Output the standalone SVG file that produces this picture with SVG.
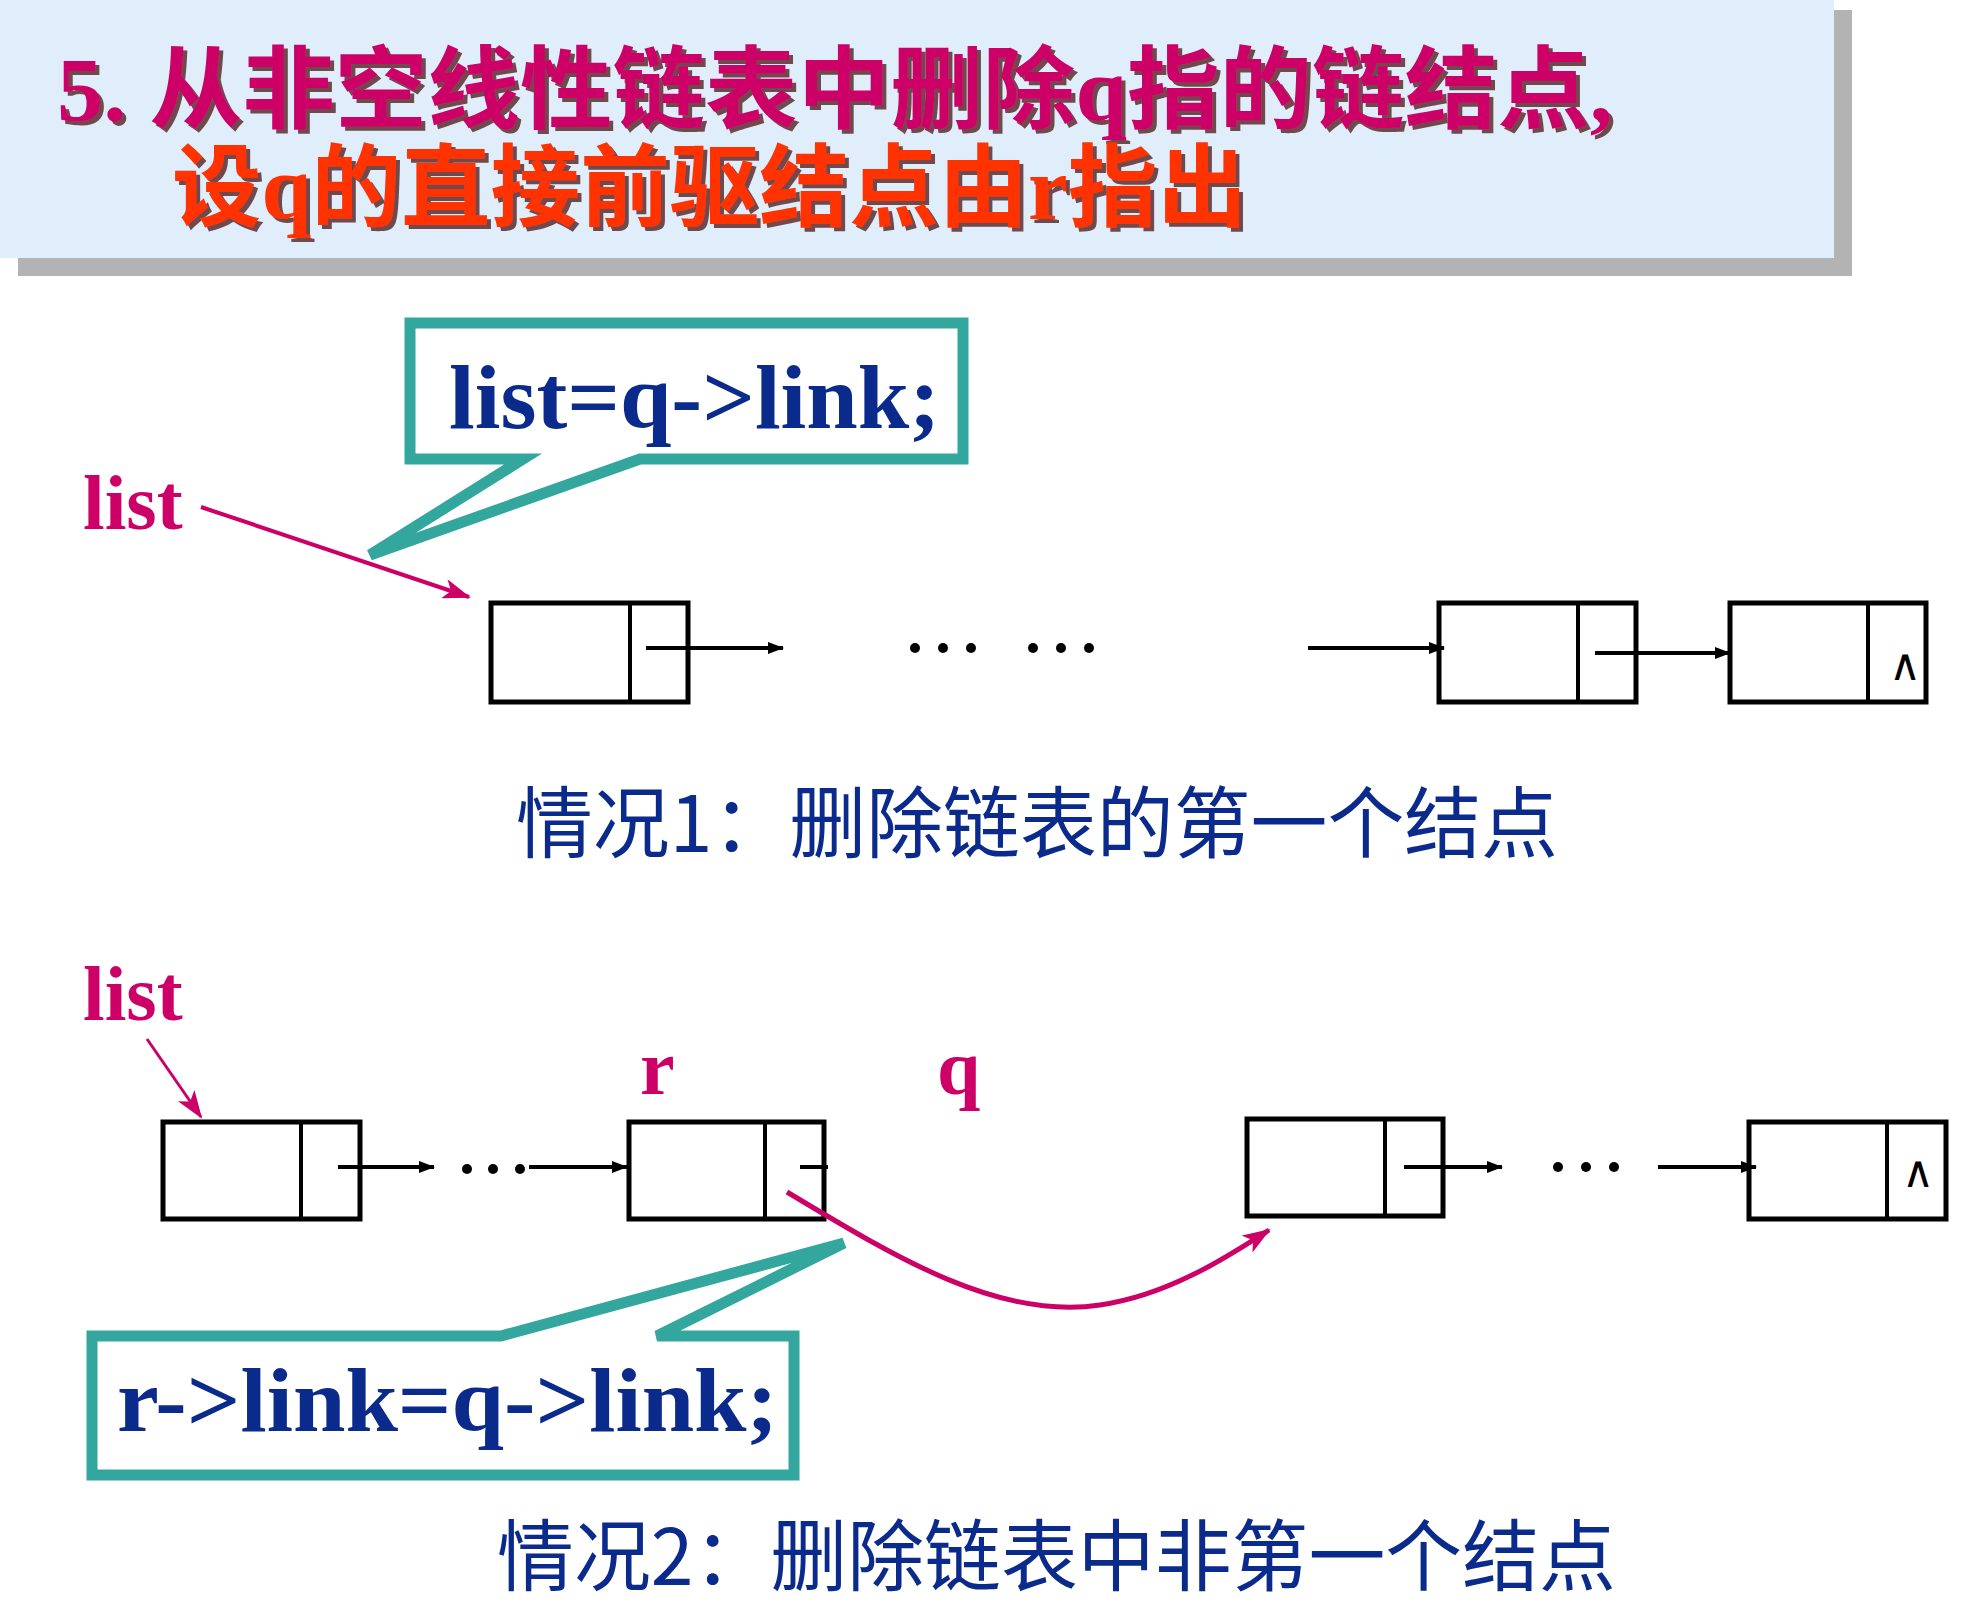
<svg xmlns="http://www.w3.org/2000/svg" width="1980" height="1620" viewBox="0 0 1980 1620">
<defs>
<style>
.node{fill:#fff;stroke:#000;stroke-width:5}
.ln{stroke:#000;stroke-width:4;fill:none}
.code{font-family:"Liberation Serif",serif;font-weight:bold;font-size:92px;fill:#0a2a8c}
.ptr{font-family:"Liberation Serif",serif;font-weight:bold;font-size:78px;fill:#cc0066}
.cap{font-family:"Noto Sans CJK SC","Liberation Sans",sans-serif;font-size:78px;fill:#0a2a8c}
.call{fill:#fff;stroke:#33a69e;stroke-width:11;stroke-linejoin:miter}
.t1{font-family:"Liberation Serif","Noto Sans CJK SC",serif;font-weight:bold;font-size:90px;filter:url(#sh)}
.nil{font-family:"Liberation Sans",sans-serif;font-size:44px;fill:#000}
</style>
<filter id="sh" x="-5%" y="-20%" width="110%" height="140%"><feDropShadow dx="4" dy="4" stdDeviation="0.5" flood-color="#552222" flood-opacity="0.8"/></filter>
<marker id="ah" markerWidth="16" markerHeight="12" refX="15" refY="6" orient="auto" markerUnits="userSpaceOnUse"><path d="M0,0 L16,6 L0,12z" fill="#000"/></marker>
<marker id="mh" markerWidth="28" markerHeight="20" refX="26" refY="10" orient="auto" markerUnits="userSpaceOnUse"><path d="M0,0 L28,10 L0,20 L7,10z" fill="#cc0066"/></marker>
</defs>
<g id="header">
<rect x="18" y="10" width="1834" height="266" fill="#b3b3b3"/>
<rect x="0" y="0" width="1834" height="258" fill="#e0eefc"/>
<text class="t1" x="57" y="121" fill="#cc0066" textLength="1556" lengthAdjust="spacingAndGlyphs">5. 从非空线性链表中删除q指的链结点,</text>
<text class="t1" x="172" y="219" fill="#ff3300" textLength="1075" lengthAdjust="spacingAndGlyphs">设q的直接前驱结点由r指出</text>
</g>
<g id="callout1">
<path class="call" d="M410,323 H963 V459 H640 L370,555 L523,459 H410 Z"/>
<text class="code" x="449" y="428" textLength="491" lengthAdjust="spacingAndGlyphs">list=q-&gt;link;</text>
</g>
<g id="case1">
<text class="ptr" x="83" y="529">list</text>
<g id="c1n1"><rect class="node" x="491" y="603" width="197" height="99"/><line class="ln" x1="630" y1="603" x2="630" y2="702"/></g>
<g id="c1dots" fill="#000"><circle cx="915" cy="648" r="5"/><circle cx="943" cy="648" r="5"/><circle cx="971" cy="648" r="5"/><circle cx="1033" cy="648" r="5"/><circle cx="1061" cy="648" r="5"/><circle cx="1089" cy="648" r="5"/></g>
<g id="c1n2"><rect class="node" x="1439" y="603" width="197" height="99"/><line class="ln" x1="1578" y1="603" x2="1578" y2="702"/></g>
<g id="c1n3"><rect class="node" x="1730" y="603" width="196" height="99"/><line class="ln" x1="1868" y1="603" x2="1868" y2="702"/><text class="nil" x="1905" y="680" text-anchor="middle">∧</text></g>
<text class="cap" x="516" y="852" textLength="1042" lengthAdjust="spacingAndGlyphs">情况1：删除链表的第一个结点</text>
</g>
<g id="case2">
<text class="ptr" x="83" y="1020">list</text>
<text class="ptr" x="640" y="1094">r</text>
<text class="ptr" x="937" y="1094">q</text>
<g id="c2n1"><rect class="node" x="163" y="1122" width="197" height="97"/><line class="ln" x1="301" y1="1122" x2="301" y2="1219"/></g>
<g id="c2dots" fill="#000"><circle cx="467" cy="1169" r="5"/><circle cx="493" cy="1169" r="5"/><circle cx="520" cy="1169" r="5"/><circle cx="1558" cy="1167" r="5"/><circle cx="1586" cy="1167" r="5"/><circle cx="1614" cy="1167" r="5"/></g>
<g id="c2r"><rect class="node" x="629" y="1122" width="195" height="97"/><line class="ln" x1="765" y1="1122" x2="765" y2="1219"/></g>
<g id="c2q"><rect class="node" x="1247" y="1119" width="196" height="97"/><line class="ln" x1="1385" y1="1119" x2="1385" y2="1216"/></g>
<g id="c2n4"><rect class="node" x="1749" y="1122" width="197" height="97"/><line class="ln" x1="1887" y1="1122" x2="1887" y2="1219"/><text class="nil" x="1918" y="1187" text-anchor="middle">∧</text></g>
<text class="cap" x="497" y="1585" textLength="1119" lengthAdjust="spacingAndGlyphs">情况2：删除链表中非第一个结点</text>
</g>
<g id="callout2">
<path class="call" d="M92,1336 H501 L844,1243 L657,1336 H794 V1475 H92 Z"/>
<text class="code" x="117" y="1431" textLength="661" lengthAdjust="spacingAndGlyphs">r-&gt;link=q-&gt;link;</text>
</g>
<g id="connectors">
<line class="ln" x1="646" y1="648" x2="783" y2="648" marker-end="url(#ah)"/>
<line class="ln" x1="1308" y1="648" x2="1444" y2="648" marker-end="url(#ah)"/>
<line class="ln" x1="1595" y1="653" x2="1730" y2="653" marker-end="url(#ah)"/>
<line class="ln" x1="338" y1="1167" x2="434" y2="1167" marker-end="url(#ah)"/>
<line class="ln" x1="529" y1="1167" x2="627" y2="1167" marker-end="url(#ah)"/>
<line class="ln" x1="1404" y1="1167" x2="1502" y2="1167" marker-end="url(#ah)"/>
<line class="ln" x1="1658" y1="1167" x2="1756" y2="1167" marker-end="url(#ah)"/>
<line class="ln" x1="800" y1="1167" x2="828" y2="1167"/>
<line x1="201" y1="507" x2="469" y2="597" stroke="#cc0066" stroke-width="4" marker-end="url(#mh)"/>
<line x1="147" y1="1039" x2="201" y2="1117" stroke="#cc0066" stroke-width="3" marker-end="url(#mh)"/>
<path d="M787,1192 C900,1260 1000,1320 1100,1305 C1170,1295 1230,1255 1269,1230" fill="none" stroke="#cc0066" stroke-width="5" marker-end="url(#mh)"/>
</g>
</svg>
